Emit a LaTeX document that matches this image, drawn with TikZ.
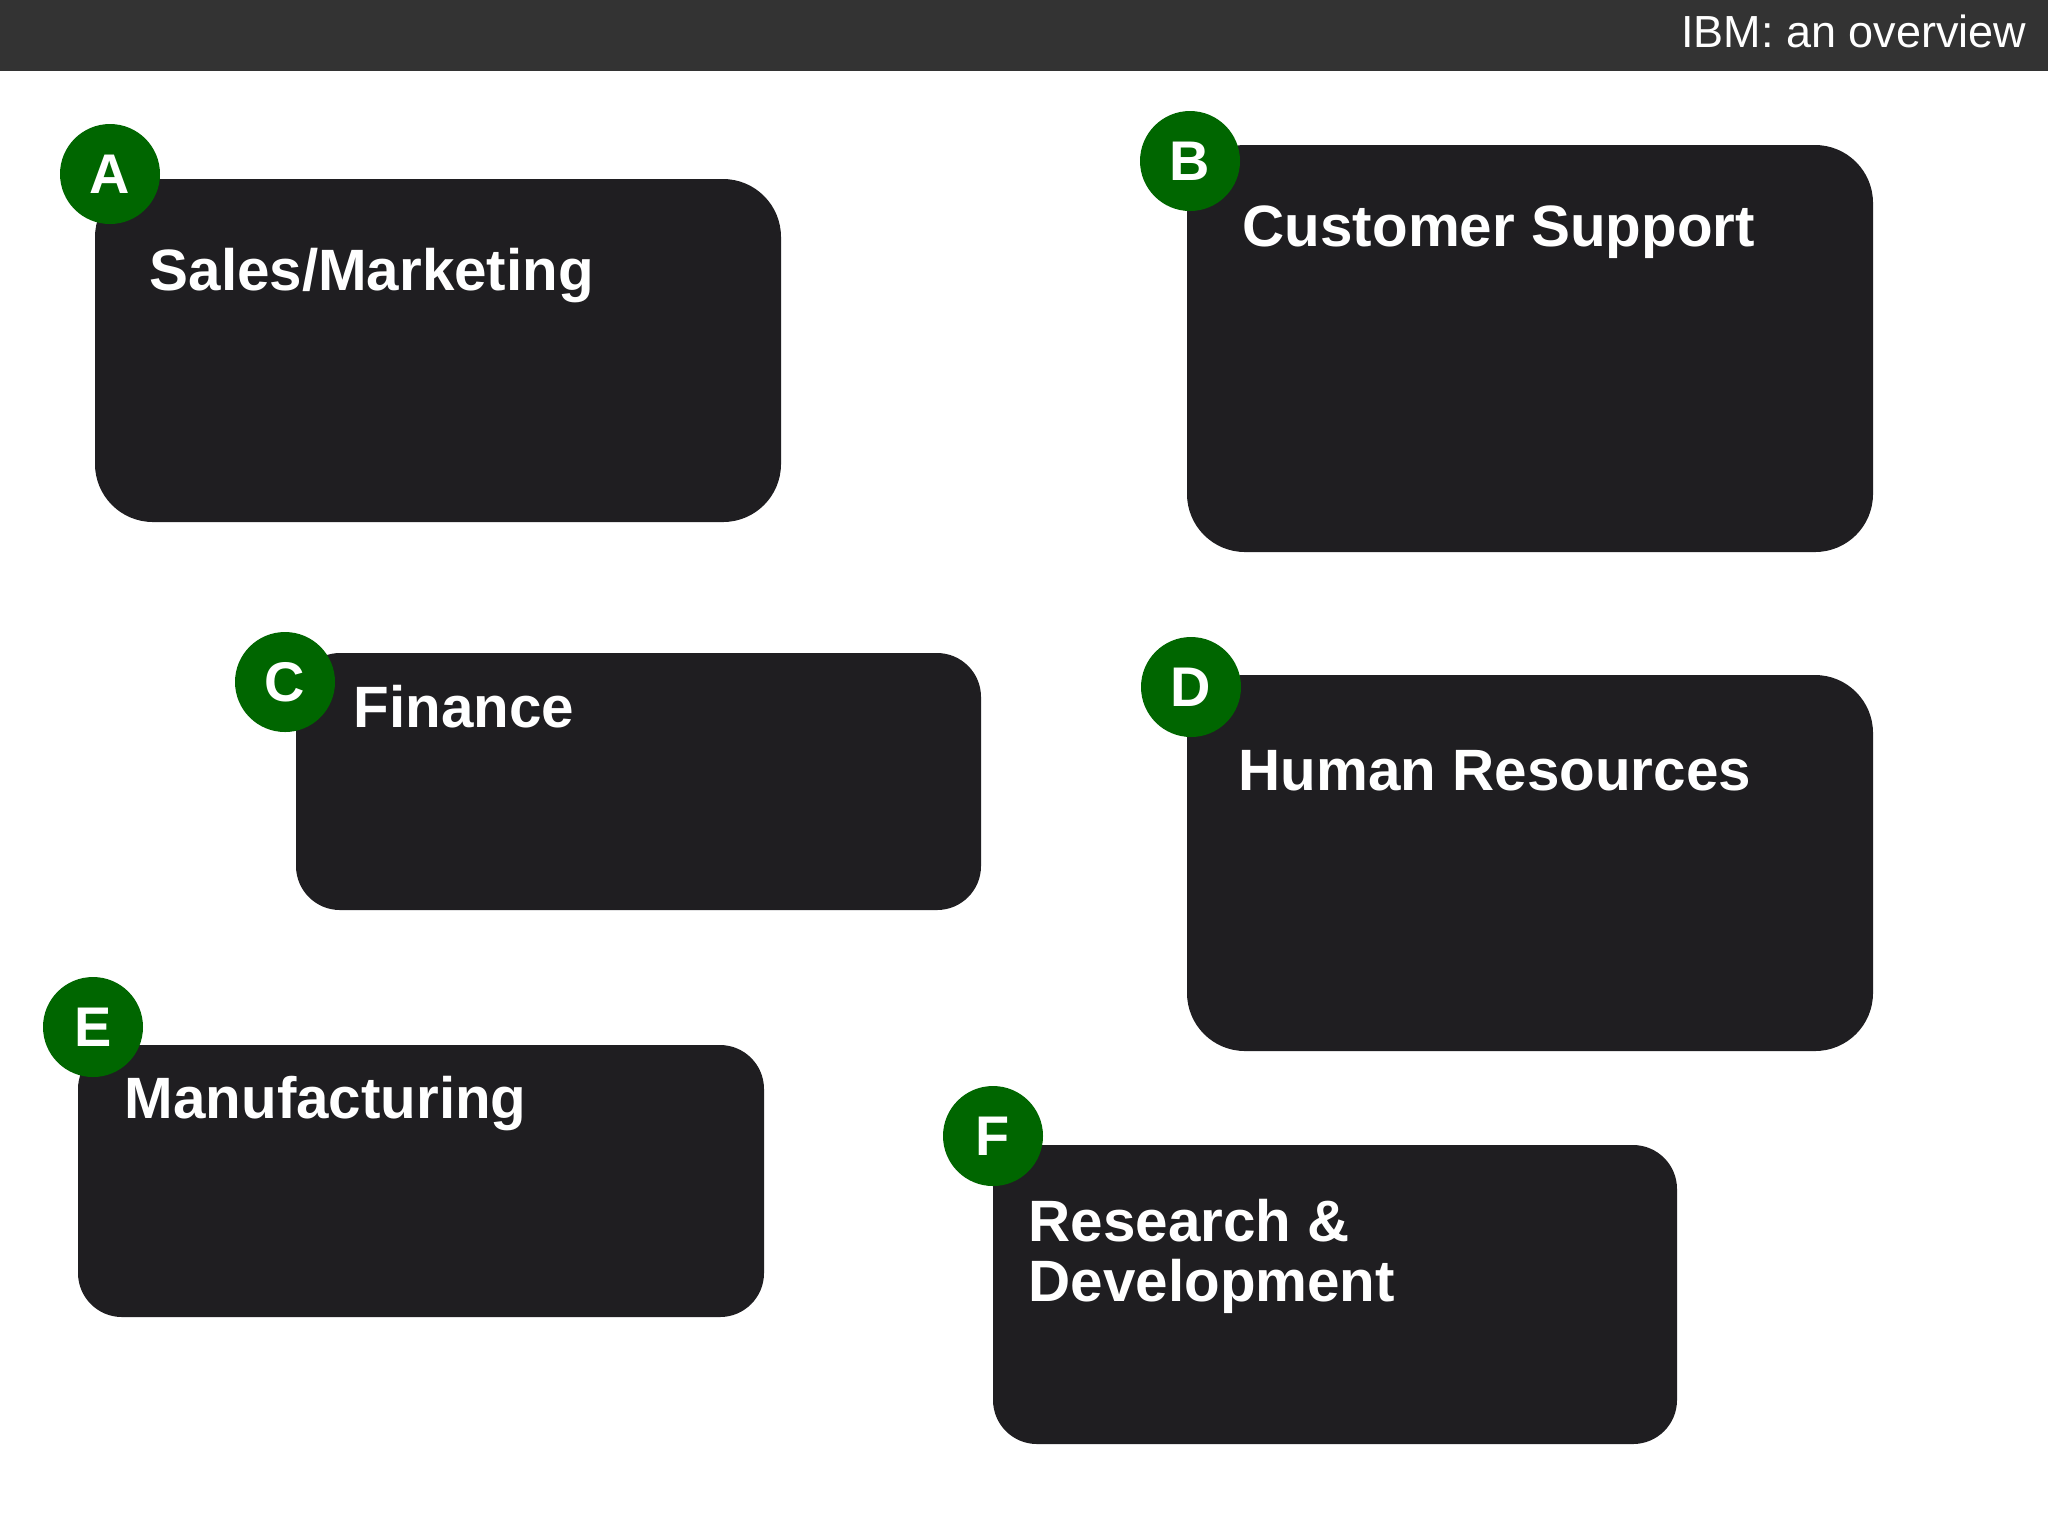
\documentclass[tikz,border=0pt]{standalone}
\usepackage{fontspec}
\setmainfont{Liberation Sans}
\definecolor{barGray}{HTML}{333333}
\definecolor{panelBlack}{HTML}{1F1E21}
\definecolor{badgeGreen}{HTML}{006600}

\begin{document}
\begin{tikzpicture}[x=0.1mm, y=-0.1mm,
    panel/.style={fill=panelBlack, draw=none, rounded corners=5.8mm},
    smallpanel/.style={fill=panelBlack, draw=none, rounded corners=4.4mm},
    badge/.style={circle, fill=badgeGreen, draw=none, minimum size=10mm, inner sep=0pt,
                  text=white, font=\fontsize{15.9}{16}\selectfont\bfseries},
    label/.style={anchor=base west, inner sep=0pt, text=white, align=left,
                  font=\fontsize{16.6}{17}\selectfont\bfseries}]
        \useasboundingbox[fill=white] (0,0) rectangle (2048,1536);
        % title bar
        \fill[barGray] (0,0) rectangle (2048,71);
        \node[anchor=base east, inner sep=0pt, text=white, font=\fontsize{12.8}{13}\selectfont] (T) at (2027,47) {IBM: an overview};
        % panels
        \draw[panel] (95,179) rectangle (781,522);
        \draw[panel] (1187,145) rectangle (1873,552);
        \draw[smallpanel] (296,653) rectangle (981,910);
        \draw[panel] (1187,675) rectangle (1873,1051);
        \draw[smallpanel] (78,1045) rectangle (764,1317);
        \draw[smallpanel] (993,1145) rectangle (1677,1444);
        % labels
        \node[label] (SM) at (149,290) {Sales/Marketing};
        \node[label] (CS) at (1242,246) {Customer Support};
        \node[label] (FI) at (353,727) {Finance};
        \node[label] (HR) at (1238,790) {Human Resources};
        \node[label] (MF) at (124,1118) {Manufacturing};
        \node[label] (RD) at (1028,1301) {Research \&\\Development};
        % badges
        \node[badge] (A) at (110,174) {A};
        \node[badge] (B) at (1190,161) {B};
        \node[badge] (C) at (285,682) {C};
        \node[badge] (D) at (1191,687) {D};
        \node[badge] (E) at (93,1027) {E};
        \node[badge] (F) at (993,1136) {F};
\end{tikzpicture}
\end{document}
